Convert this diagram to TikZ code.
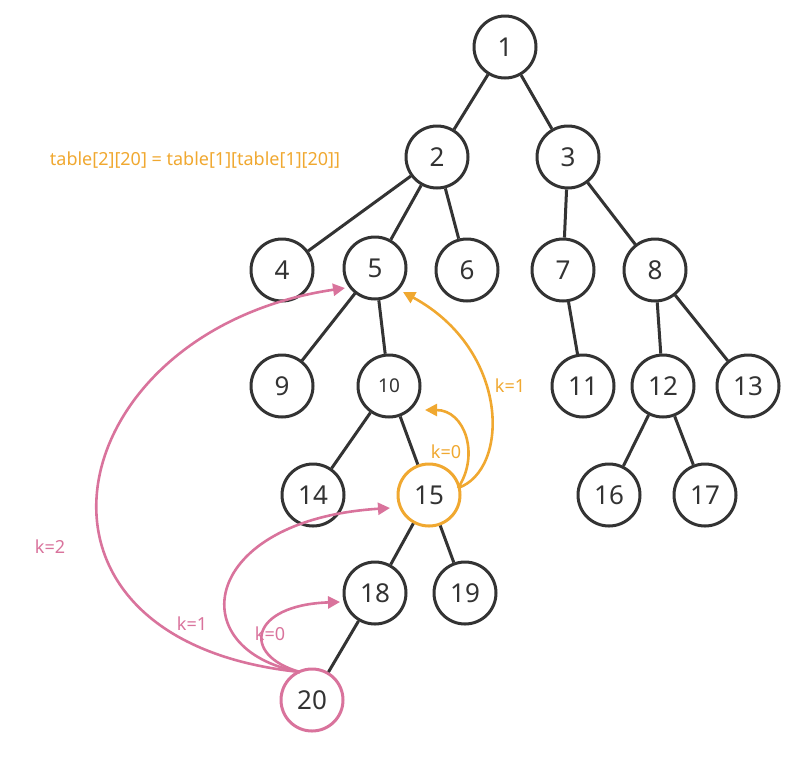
\documentclass[tikz,border=0pt]{standalone}
\usepackage{fontspec}
\setmainfont{Noto Sans}
\usetikzlibrary{arrows.meta}
\definecolor{pk}{HTML}{D9739C}
\definecolor{og}{HTML}{F0A830}
\definecolor{dk}{HTML}{333333}
\begin{document}
\begin{tikzpicture}[x=1pt,y=-1pt,
 vx/.style={circle,draw=dk,line width=3pt,minimum size=62pt,inner sep=0pt,font=\fontsize{26}{26}\selectfont,text=dk},
 ed/.style={draw=dk,line width=3pt},
 pa/.style={draw=pk,line width=2.6pt,-{Triangle[length=12pt,width=12pt]}},
 oa/.style={draw=og,line width=2.6pt,-{Triangle[length=12pt,width=12pt]}},
 lb/.style={font=\fontsize{18}{18}\selectfont}]
\useasboundingbox (0,0) rectangle (800,756);
\node[vx] (n1) at (505,47) {1};
\node[vx] (n2) at (437,157) {2};
\node[vx] (n3) at (568,157) {3};
\node[vx] (n4) at (282,270) {4};
\node[vx] (n5) at (375,268) {5};
\node[vx] (n6) at (467,270) {6};
\node[vx] (n7) at (563,270) {7};
\node[vx] (n8) at (655,270) {8};
\node[vx] (n9) at (282,386) {9};
\node[vx,font=\fontsize{19}{19}\selectfont] (n10) at (389,386) {10};
\node[vx] (n11) at (583,386) {11};
\node[vx] (n12) at (663,386) {12};
\node[vx] (n13) at (748,386) {13};
\node[vx] (n14) at (313,495) {14};
\node[vx,draw=og] (n15) at (429,495) {15};
\node[vx] (n16) at (609,495) {16};
\node[vx] (n17) at (705,495) {17};
\node[vx] (n18) at (375,593) {18};
\node[vx] (n19) at (465,593) {19};
\node[vx,draw=pk] (n20) at (312,700) {20};
\foreach \a/\b in {1/2,1/3,2/4,2/5,2/6,3/7,3/8,5/9,5/10,7/11,8/12,8/13,10/14,10/15,12/16,12/17,15/18,15/19,18/20}
 \draw[ed] (n\a) -- (n\b);
\coordinate (p20) at (300,672);
\draw[pa] (p20) .. controls (-10,640) and (60,330) .. (345,288);
\draw[pa] (p20) .. controls (180,650) and (200,520) .. (390,508);
\draw[pa] (p20) .. controls (240,655) and (250,605) .. (340,602);
\coordinate (p15) at (458,488);
\draw[oa] (p15) .. controls (510,470) and (510,350) .. (403,292);
\draw[oa] (p15) .. controls (480,455) and (465,410) .. (425,410);
\node[lb,text=og] (t) at (195,160) {table[2][20] = table[1][table[1][20]]};
\node[lb,text=pk] (k2) at (50,547) {k=2};
\node[lb,text=pk] (k1) at (192,624) {k=1};
\node[lb,text=pk] (k0) at (270,634) {k=0};
\node[lb,text=og] (o0) at (446,452) {k=0};
\node[lb,text=og] (o1) at (510,386) {k=1};
\end{tikzpicture}
\end{document}
